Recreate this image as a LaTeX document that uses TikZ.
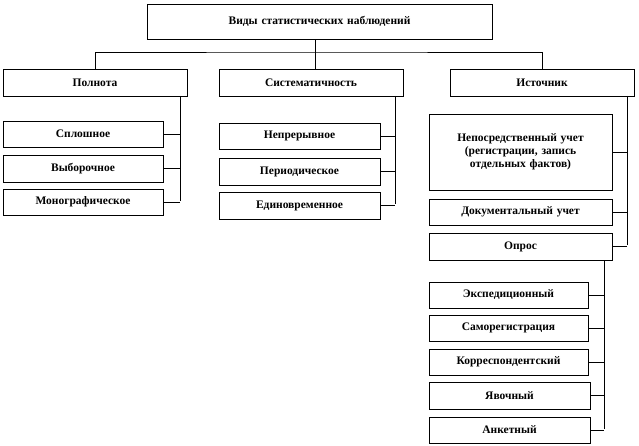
\documentclass[tikz,border=0pt]{standalone}
\usepackage{fontspec}
\setmainfont{Liberation Serif}
\begin{document}
\begin{tikzpicture}[x=1pt,y=-1pt,
  bx/.style={draw,line width=0.7pt,fill=white,font=\bfseries\fontsize{11.5}{13}\selectfont,align=center,inner sep=0pt},
  ln/.style={line width=0.7pt}]
\useasboundingbox (0,0) rectangle (639,446);
\newcommand\B[6]{\node[bx,minimum width=#4-#2,minimum height=#5-#3,text width=#4-#2-6] (#1) at ({(#2+#4)/2},{(#3+#5)/2+1}) {#6};}
\B{top}{147}{3}{492}{38}{Виды статистических наблюдений}
\B{p}{3}{68}{187}{95}{Полнота}
\B{s}{219}{68}{403}{95}{Систематичность}
\B{i}{450}{68}{634}{95}{Источник}
\B{p1}{3}{120}{163}{146}{Сплошное}
\B{p2}{3}{154}{163}{181}{Выборочное}
\B{p3}{3}{188}{163}{214}{Монографическое}
\B{s1}{219}{122}{380}{148}{Непрерывное}
\B{s2}{219}{157}{380}{184}{Периодическое}
\B{s3}{219}{191}{380}{218}{Единовременное}
\B{i1}{429}{113}{612}{189}{Непосредственный учет (регистрации, запись отдельных фактов)}
\B{i2}{429}{198}{612}{224}{Документальный учет}
\B{i3}{429}{232}{612}{259}{Опрос}
\B{o1}{429}{281}{588}{307}{Экспедиционный}
\B{o2}{429}{314}{588}{340}{Саморегистрация}
\B{o3}{429}{348}{588}{374}{Корреспондентский}
\B{o4}{429}{381}{590}{408}{Явочный}
\B{o5}{429}{416}{590}{442}{Анкетный}
\coordinate (t) at (315,52);
\draw[ln] (t |- top.south) -- (t);
\draw[ln] (p.north) |- (t) -| (i.north);
\draw[ln] (t) -- (t |- s.north);
\draw[ln] (180,96) -- (180,201);
\foreach \n in {p1,p2,p3} \draw[ln] (\n.east) -- (\n.east -| 180,0);
\draw[ln] (395,96) -- (395,204);
\foreach \n in {s1,s2,s3} \draw[ln] (\n.east) -- (\n.east -| 395,0);
\draw[ln] (627,96) -- (627,245);
\foreach \n in {i1,i2,i3} \draw[ln] (\n.east) -- (\n.east -| 627,0);
\draw[ln] (604,260) -- (604,429);
\foreach \n in {o1,o2,o3,o4,o5} \draw[ln] (\n.east) -- (\n.east -| 604,0);
\end{tikzpicture}
\end{document}
